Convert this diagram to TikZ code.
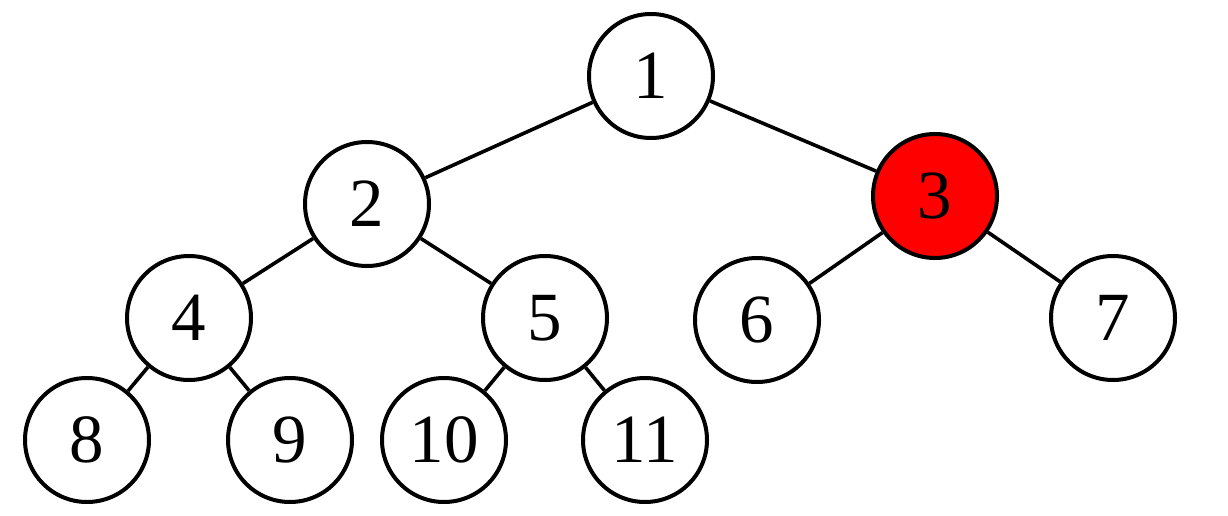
\documentclass[tikz,border=0pt]{standalone}
\usepackage{fontspec}
\setmainfont{Liberation Serif}
\begin{document}
\begin{tikzpicture}[x=1pt,y=-1pt,
  tn/.style={circle,draw=black,line width=4pt,fill=white,minimum size=124pt,inner sep=0pt,font=\fontsize{69}{76}\selectfont},
  hot/.style={fill=red},
  edge/.style={line width=3.6pt,draw=black}]
\useasboundingbox (0,0) rectangle (1228,516);
\node[tn] (n1) at (651,76) {1};
\node[tn] (n2) at (367,204) {2};
\node[tn,hot] (n3) at (935,196) {3};
\node[tn] (n4) at (189,318) {4};
\node[tn] (n5) at (545,318) {5};
\node[tn] (n6) at (757,320) {6};
\node[tn] (n7) at (1113,318) {7};
\node[tn] (n8) at (87,440) {8};
\node[tn] (n9) at (290,440) {9};
\node[tn] (n10) at (444,440) {10};
\node[tn] (n11) at (645,440) {11};
\draw[edge] (n1) -- (n2);
\draw[edge] (n1) -- (n3);
\draw[edge] (n2) -- (n4);
\draw[edge] (n2) -- (n5);
\draw[edge] (n3) -- (n6);
\draw[edge] (n3) -- (n7);
\draw[edge] (n4) -- (n8);
\draw[edge] (n4) -- (n9);
\draw[edge] (n5) -- (n10);
\draw[edge] (n5) -- (n11);
\end{tikzpicture}
\end{document}
